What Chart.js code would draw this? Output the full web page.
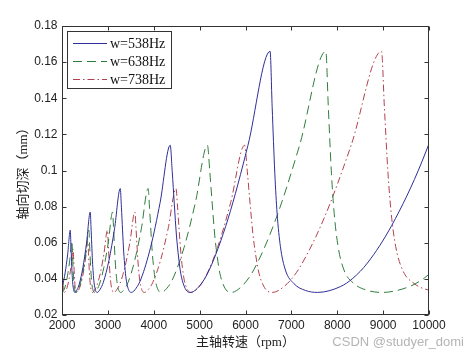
<!DOCTYPE html>
<html><head><meta charset="utf-8">
<script src="https://cdn.jsdelivr.net/npm/chart.js@4/dist/chart.umd.min.js"></script>
<style>html,body{margin:0;padding:0;background:#fff;}</style>
</head><body>
<canvas id="c" width="474" height="355"></canvas>
<script>
const seriesLabels = ['w=538Hz', 'w=638Hz', 'w=738Hz'];
const xTicks = [2000, 3000, 4000, 5000, 6000, 7000, 8000, 9000, 10000];
const yTicks = [0.02, 0.04, 0.06, 0.08, 0.1, 0.12, 0.14, 0.16, 0.18];

const rpm538 = [
1869, 1877,1885,1894,1902,1910,1921,1933, 1945, 1977,2010,2068,2124,
2181, 2192,2203,2214,2225,2236,2252,2267, 2285, 2329,2375,2456,2535,
2616, 2632,2648,2664,2681,2697,2720,2743, 2768, 2833,2901,3023,3145,
3270, 3295,3320,3345,3371,3397,3433,3470, 3510, 3615,3727,3931,4139,
4359, 4403,4448,4494,4541,4588,4654,4721, 4795, 4995,5211,5619,6053,
6536, 6581,6639,6689,6761,6870,7054,7306, 7568, 8076,8339,8659,9188,9845,11259];
const depth538 = [
0.061, 0.0559,0.0496,0.0436,0.0393,0.0362,0.0339,0.0328, 0.0325, 0.0338,0.0361,0.0433,0.0537,
0.067, 0.0608,0.0532,0.0460,0.0408,0.0370,0.0342,0.0328, 0.0325, 0.0340,0.0370,0.0463,0.0598,
0.077, 0.0690,0.0592,0.0499,0.0432,0.0383,0.0347,0.0329, 0.0325, 0.0343,0.0381,0.0502,0.0677,
0.090, 0.0797,0.0670,0.0549,0.0463,0.0400,0.0354,0.0331, 0.0325, 0.0348,0.0403,0.0575,0.0823,
0.114, 0.0993,0.0814,0.0643,0.0521,0.0431,0.0366,0.0333, 0.0325, 0.0360,0.0450,0.0732,0.1139,
0.166, 0.1353,0.0985,0.0763,0.0579,0.0449,0.0374,0.0336, 0.0325, 0.0358,0.0403,0.0488,0.0696,0.1048,0.205];

const rpm638 = [
1940, 1947,1954,1962,1969,1977,1987,1997, 2008, 2037,2066,2118,2167,
2217, 2226,2236,2246,2255,2265,2279,2292, 2307, 2345,2384,2452,2519,
2586, 2599,2612,2625,2639,2652,2671,2689, 2709, 2762,2816,2912,3007,
3103, 3122,3141,3160,3179,3199,3225,3252, 3282, 3359,3441,3585,3729,
3878, 3907,3937,3967,3998,4029,4071,4114, 4162, 4287,4420,4662,4908,
5170, 5222,5275,5329,5385,5441,5519,5598, 5687, 5923,6180,6663,7178,
7751, 7805,7873,7933,8018,8147,8365,8664, 8975, 9578,9889,10268];
const depth638 = [
0.0565, 0.0522,0.0469,0.0419,0.0383,0.0356,0.0337,0.0327, 0.0325, 0.0336,0.0355,0.0415,0.0500,
0.061, 0.0559,0.0496,0.0436,0.0393,0.0362,0.0339,0.0328, 0.0325, 0.0338,0.0361,0.0433,0.0537,
0.067, 0.0608,0.0532,0.0460,0.0408,0.0370,0.0342,0.0328, 0.0325, 0.0340,0.0370,0.0463,0.0598,
0.077, 0.0690,0.0592,0.0499,0.0432,0.0383,0.0347,0.0329, 0.0325, 0.0343,0.0381,0.0502,0.0677,
0.090, 0.0797,0.0670,0.0549,0.0463,0.0400,0.0354,0.0331, 0.0325, 0.0348,0.0403,0.0575,0.0823,
0.114, 0.0993,0.0814,0.0643,0.0521,0.0431,0.0366,0.0333, 0.0325, 0.0360,0.0450,0.0732,0.1139,
0.166, 0.1353,0.0985,0.0763,0.0579,0.0449,0.0374,0.0336, 0.0325, 0.0358,0.0403,0.0488];

const rpm738 = [
1994, 2001,2008,2015,2021,2028,2037,2047, 2057, 2083,2109,2156,2200,
2244, 2252,2261,2269,2278,2286,2298,2310, 2323, 2356,2390,2450,2507,
2564, 2575,2586,2597,2609,2620,2636,2651, 2668, 2712,2757,2837,2913,
2991, 3006,3021,3037,3052,3068,3089,3110, 3134, 3194,3258,3369,3478,
3589, 3611,3633,3655,3677,3700,3731,3762, 3796, 3886,3980,4147,4313,
4486, 4519,4554,4589,4624,4660,4709,4759, 4814, 4959,5113,5392,5677,
5980, 6040,6101,6164,6229,6294,6384,6476, 6578, 6851,7148,7707,8302,
8965, 9027,9106,9176,9274,9424,9676,10021, 10381];
const depth738 = [
0.054, 0.0501,0.0454,0.0409,0.0377,0.0353,0.0336,0.0327, 0.0325, 0.0335,0.0351,0.0401,0.0473,
0.0565, 0.0522,0.0469,0.0419,0.0383,0.0356,0.0337,0.0327, 0.0325, 0.0336,0.0355,0.0415,0.0500,
0.061, 0.0559,0.0496,0.0436,0.0393,0.0362,0.0339,0.0328, 0.0325, 0.0338,0.0361,0.0433,0.0537,
0.067, 0.0608,0.0532,0.0460,0.0408,0.0370,0.0342,0.0328, 0.0325, 0.0340,0.0370,0.0463,0.0598,
0.077, 0.0690,0.0592,0.0499,0.0432,0.0383,0.0347,0.0329, 0.0325, 0.0343,0.0381,0.0502,0.0677,
0.090, 0.0797,0.0670,0.0549,0.0463,0.0400,0.0354,0.0331, 0.0325, 0.0348,0.0403,0.0575,0.0823,
0.114, 0.0993,0.0814,0.0643,0.0521,0.0431,0.0366,0.0333, 0.0325, 0.0360,0.0450,0.0732,0.1139,
0.166, 0.1353,0.0985,0.0763,0.0579,0.0449,0.0374,0.0336, 0.0325];

const pts = (xs, ys) => xs.map((v, i) => ({ x: v, y: ys[i] }));
const colors = ['#2e2e98', '#2f7d3c', '#b2404e'];
const dashes = [[], [9, 5], [7, 3, 1.5, 3]];
const serif = '"Liberation Serif", "Times New Roman", "Noto Sans CJK SC", serif';
const sans = '"Liberation Sans", Arial, sans-serif';
const cjk = '"Liberation Serif", "Noto Sans CJK SC", serif';

const framePlugin = {
  id: 'frame',
  afterDatasetsDraw(chart) {
    const { ctx, chartArea: a, scales: { x, y } } = chart;
    ctx.save();
    ctx.strokeStyle = '#333';
    ctx.lineWidth = 1;
    const L = Math.round(a.left) + 0.5, R = Math.round(a.right) - 0.5;
    const T = Math.round(a.top) + 0.5, B = Math.round(a.bottom) - 0.5;
    ctx.strokeRect(L, T, R - L, B - T);
    ctx.beginPath();
    xTicks.forEach(v => {
      const px = Math.round(x.getPixelForValue(v)) + 0.5;
      ctx.moveTo(px, B); ctx.lineTo(px, B - 4);
      ctx.moveTo(px, T); ctx.lineTo(px, T + 4);
    });
    yTicks.forEach(v => {
      const py = Math.round(y.getPixelForValue(v)) + 0.5;
      ctx.moveTo(L, py); ctx.lineTo(L + 4, py);
      ctx.moveTo(R, py); ctx.lineTo(R - 4, py);
    });
    ctx.stroke();

    // legend
    const bx = 67.5, by = 31.5, bw = 104, bh = 57;
    ctx.fillStyle = '#fff';
    ctx.fillRect(bx, by, bw, bh);
    ctx.strokeStyle = '#333';
    ctx.strokeRect(bx, by, bw, bh);
    chart.data.datasets.forEach((ds, i) => {
      const ly = 43 + i * 18;
      ctx.save();
      ctx.strokeStyle = ds.borderColor;
      ctx.lineWidth = 1;
      ctx.setLineDash(ds.borderDash || []);
      ctx.beginPath();
      ctx.moveTo(73, ly + 0.5); ctx.lineTo(107, ly + 0.5);
      ctx.stroke();
      ctx.restore();
      ctx.fillStyle = '#111';
      ctx.font = '14px ' + serif;
      ctx.textBaseline = 'middle';
      ctx.textAlign = 'left';
      ctx.fillText(ds.label, 110, ly + 1);
    });

    // watermark
    ctx.fillStyle = '#b4b4b4';
    ctx.font = '13px ' + sans;
    ctx.textAlign = 'right';
    ctx.textBaseline = 'middle';
    ctx.fillText('CSDN @studyer_domi', 464, 342);
    ctx.restore();
  }
};

new Chart(document.getElementById('c'), {
  type: 'scatter',
  data: {
    datasets: [
      { label: seriesLabels[0], data: pts(rpm538, depth538) },
      { label: seriesLabels[1], data: pts(rpm638, depth638) },
      { label: seriesLabels[2], data: pts(rpm738, depth738) }
    ].map((d, i) => Object.assign(d, {
      showLine: true, pointRadius: 0, borderWidth: 1, fill: false,
      borderColor: colors[i], backgroundColor: colors[i],
      borderDash: dashes[i], cubicInterpolationMode: 'monotone'
    }))
  },
  options: {
    responsive: false, animation: false, devicePixelRatio: 1,
    layout: { padding: { top: 26, right: 45, left: 0, bottom: 0 } },
    plugins: { legend: { display: false }, tooltip: { enabled: false } },
    scales: {
      x: {
        type: 'linear', min: 2000, max: 10000,
        afterFit(s) { s.height = 40; },
        afterBuildTicks(s) { s.ticks = xTicks.map(v => ({ value: v })); },
        grid: { display: false, drawTicks: false }, border: { display: false },
        ticks: { padding: 3, color: '#222', font: { family: sans, size: 12 }, maxRotation: 0, autoSkip: false, callback: v => String(v) },
        title: { display: true, text: '主轴转速（rpm）', color: '#222', font: { family: cjk, size: 13 }, padding: { top: 0, bottom: 5 } }
      },
      y: {
        type: 'linear', min: 0.02, max: 0.18,
        afterFit(s) { s.width = 62; },
        afterBuildTicks(s) { s.ticks = yTicks.map(v => ({ value: v })); },
        grid: { display: false, drawTicks: false }, border: { display: false },
        ticks: { padding: 4.5, color: '#222', font: { family: sans, size: 12 }, autoSkip: false, callback: v => String(+Number(v).toFixed(2)) },
        title: { display: true, text: '轴向切深（mm）', color: '#222', font: { family: cjk, size: 13 }, padding: { top: 16, bottom: 0 } }
      }
    }
  },
  plugins: [framePlugin]
});
</script>
</body></html>
